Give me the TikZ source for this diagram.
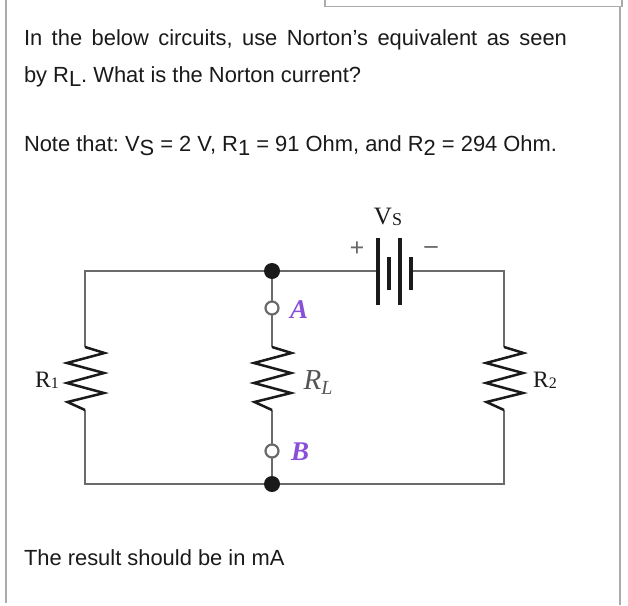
\documentclass[tikz,border=0pt]{standalone}
\usepackage{fontspec}
\setmainfont{Liberation Sans}
\newfontfamily\serifcirc{Liberation Serif}
\definecolor{wirec}{HTML}{6A6A6A}
\definecolor{framec}{HTML}{ABABAB}
\definecolor{purp}{HTML}{8A4FD8}
\definecolor{inkc}{HTML}{1A1A1A}
\tikzset{
  wire/.style={draw=wirec,line width=2.2pt,line join=miter},
  zigzag/.style={draw=inkc,line width=2.5pt,line join=miter},
  plate/.style={draw=inkc,line width=4.6pt},
  frameline/.style={draw=framec,line width=1.5pt},
  body/.style={anchor=base west,inner sep=0pt,outer sep=0pt,text=inkc,font=\frenchspacing\fontsize{21.9}{24}\selectfont},
  circ/.style={anchor=center,inner sep=0pt,text=inkc,font=\serifcirc\fontsize{23.5}{26}\selectfont},
  sign/.style={anchor=center,inner sep=0pt,text=wirec,font=\serifcirc\bfseries\fontsize{26}{28}\selectfont},
  letter/.style={anchor=center,inner sep=0pt,text=purp,font=\serifcirc\itshape\bfseries\fontsize{27}{30}\selectfont},
  junction/.style={circle,fill=inkc,minimum size=16pt,inner sep=0pt},
  terminal/.style={circle,draw=wirec,fill=white,line width=2.2pt,minimum size=13pt,inner sep=0pt}
}
\begin{document}
\begin{tikzpicture}[x=1pt,y=-1pt]
\useasboundingbox (0,0) rectangle (628,605);
\fill[white] (0,0) rectangle (628,605);
% frame
\coordinate (fl0) at (6,0); \coordinate (fl1) at (6,603);
\coordinate (fr0) at (620,6.500); \coordinate (fr1) at (620,605);
\coordinate (fb0) at (325,0); \coordinate (fb1) at (325,6.500);
\coordinate (fb2) at (622,6.500); \coordinate (fb3) at (622,0);
\draw[frameline] (fl0) -- (fl1);
\draw[frameline] (fr0) -- (fr1);
\draw[frameline] (fb0) -- (fb1) -- (fb2) -- (fb3);
% text
\node[body] (t1) at (24,45) {\makebox[543pt][s]{In the below circuits, use Norton’s equivalent as seen}};
\node[body] (t2) at (24,82.500) {by R\raisebox{-3.5pt}{L}. What is the Norton current?};
\node[body] (t3) at (24,151.500) {Note that: V\raisebox{-3.5pt}{S} = 2 V, R\raisebox{-3.5pt}{1} = 91 Ohm, and R\raisebox{-3.5pt}{2} = 294 Ohm.};
\node[body] (t4) at (24,565) {The result should be in mA};
% circuit nodes
\coordinate (tl) at (85,271); \coordinate (bl) at (85,484);
\coordinate (tr) at (504,271); \coordinate (br) at (504,484);
\coordinate (r1a) at (85,347); \coordinate (r1b) at (85,410);
\coordinate (rla) at (272,347); \coordinate (rlb) at (272,410);
\coordinate (r2a) at (504,347); \coordinate (r2b) at (504,410);
\coordinate (bp) at (378,271); \coordinate (bm) at (411,271);
% wires
\draw[wire] (bp) -- (272,271) -- (tl) -- (r1a);
\draw[wire] (r1b) -- (bl) -- (272,484) -- (br) -- (r2b);
\draw[wire] (r2a) -- (tr) -- (bm);
\draw[wire] (272,271) -- (rla);
\draw[wire] (rlb) -- (272,484);
\node[junction] (jt) at (272,271) {};
\node[junction] (jb) at (272,484) {};
\node[terminal] (ta) at (272,308) {};
\node[terminal] (tb) at (272,451) {};
% resistors
\foreach \a in {r1a,rla,r2a}{
  \draw[zigzag] (\a) -- ++(19.500,6) -- ++(-37.500,10) -- ++(37,10) -- ++(-37,10) -- ++(37,10) -- ++(-36.500,9) -- ++(17.500,8);
}
% battery
\draw[plate] (378,238) -- (378,305);
\draw[plate] (389,257) -- (389,290);
\draw[plate] (400,238) -- (400,305);
\draw[plate] (411,257) -- (411,290);
% labels
\node[circ] (lr1) at (47,380) {R\raisebox{-1pt}{\fontsize{16}{16}\selectfont 1}};
\node[circ] (lr2) at (545,380) {R\raisebox{-1pt}{\fontsize{16}{16}\selectfont 2}};
\node[circ,font=\serifcirc\fontsize{25}{28}\selectfont] (lvs) at (388,217) {V\raisebox{-1pt}{\fontsize{18}{18}\selectfont S}};
\node[sign] (lp) at (357,249) {+};
\node[sign] (lm) at (431,250) {–};
\node[letter] (la) at (299,310) {A};
\node[letter] (lb) at (300,452) {B};
\node[anchor=center,inner sep=0pt,text=wirec!80!black,font=\serifcirc\itshape\fontsize{29}{32}\selectfont] (lrl) at (318,382) {R\raisebox{-5pt}{\fontsize{20}{20}\selectfont L}};
\end{tikzpicture}
\end{document}
